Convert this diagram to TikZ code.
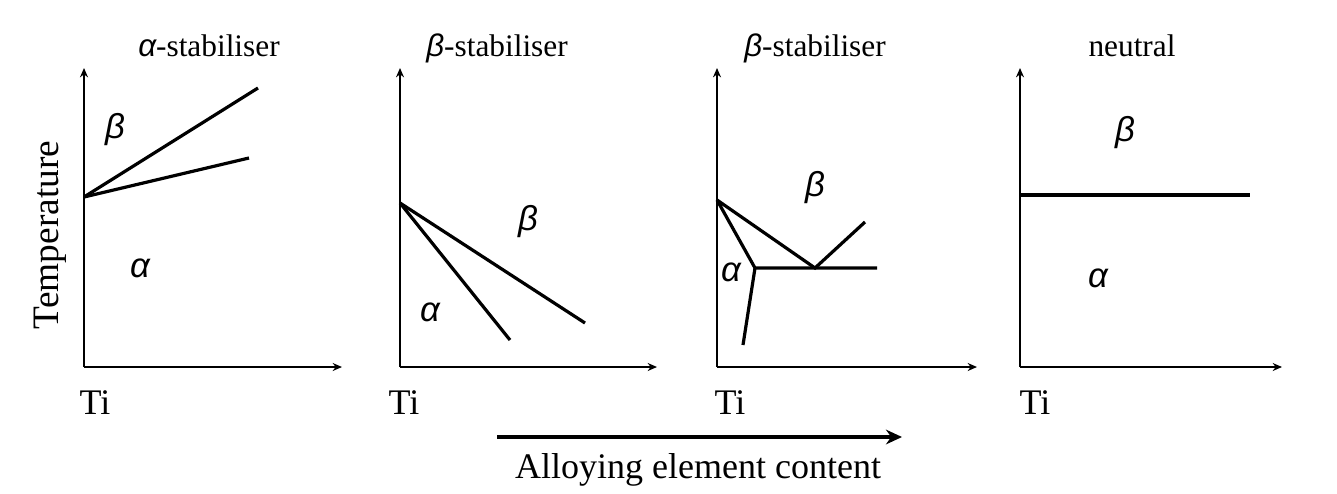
\documentclass[tikz,border=0pt]{standalone}
\usepackage{fontspec}
\setmainfont{Liberation Serif}
\newfontfamily\grk{Liberation Sans}
\usetikzlibrary{arrows.meta}
\begin{document}
\begin{tikzpicture}[x=0.75pt,y=-0.75pt,
  ax/.style={line width=1.4pt,-{Stealth[length=7pt,width=6pt]}},
  ln/.style={line width=2.4pt},
  gk/.style={font=\grk\itshape\fontsize{26}{26}\selectfont},
  tt/.style={font=\fontsize{23.5}{24}\selectfont,anchor=base},
  ti/.style={font=\fontsize{27}{27}\selectfont,anchor=base}]
\useasboundingbox (0,0) rectangle (1337,493);
% panel 1
\coordinate (o1) at (84,367);
\draw[ax] (o1) -- (84,68);
\draw[ax] (o1) -- (342,367);
\coordinate (p1) at (84,197);
\coordinate (a1) at (258,88);
\coordinate (b1) at (249,158);
\draw[ln] (p1) -- (a1);
\draw[ln] (p1) -- (b1);
\node[gk] (be1) at (115,130) {β};
\node[gk] (al1) at (140,268) {α};
\node[tt] (t1) at (209,56) {{\grk\itshape α}-stabiliser};
\node[ti] (ti1) at (95,414) {Ti};
\node[font=\fontsize{28}{28}\selectfont,rotate=90] (temp) at (50,235) {Temperature};
% panel 2
\coordinate (o2) at (400,367);
\draw[ax] (o2) -- (400,68);
\draw[ax] (o2) -- (657,367);
\coordinate (p2) at (400,203);
\coordinate (a2) at (585,323);
\coordinate (b2) at (510,340);
\draw[ln] (p2) -- (a2);
\draw[ln] (p2) -- (b2);
\node[gk] (be2) at (528,222) {β};
\node[gk] (al2) at (430,312) {α};
\node[tt] (t2) at (497,56) {{\grk\itshape β}-stabiliser};
\node[ti] (ti2) at (404,414) {Ti};
% panel 3
\coordinate (o3) at (717,367);
\draw[ax] (o3) -- (717,68);
\draw[ax] (o3) -- (977,367);
\coordinate (p3) at (717,200);
\coordinate (q3) at (755,268);
\coordinate (r3) at (815,268);
\coordinate (e3) at (877,268);
\coordinate (d3) at (743,345);
\coordinate (u3) at (865,222);
\draw[ln] (p3) -- (r3) -- (u3);
\draw[ln] (p3) -- (q3) -- (e3);
\draw[ln] (q3) -- (d3);
\node[gk] (be3) at (815,188) {β};
\node[gk] (al3) at (731,272) {α};
\node[tt] (t3) at (815,56) {{\grk\itshape β}-stabiliser};
\node[ti] (ti3) at (730,414) {Ti};
% panel 4
\coordinate (o4) at (1020,367);
\draw[ax] (o4) -- (1020,68);
\draw[ax] (o4) -- (1282,367);
\coordinate (p4) at (1020,195);
\coordinate (a4) at (1250,195);
\draw[ln] (p4) -- (a4);
\node[gk] (be4) at (1125,133) {β};
\node[gk] (al4) at (1098,278) {α};
\node[tt] (t4) at (1132,56) {neutral};
\node[ti] (ti4) at (1035,414) {Ti};
% bottom
\coordinate (s) at (497,437);
\coordinate (f) at (902,437);
\draw[line width=2.4pt,-{Stealth[length=12pt,width=11pt]}] (s) -- (f);
\node[ti] (lab) at (698,478) {Alloying element content};
\end{tikzpicture}
\end{document}
